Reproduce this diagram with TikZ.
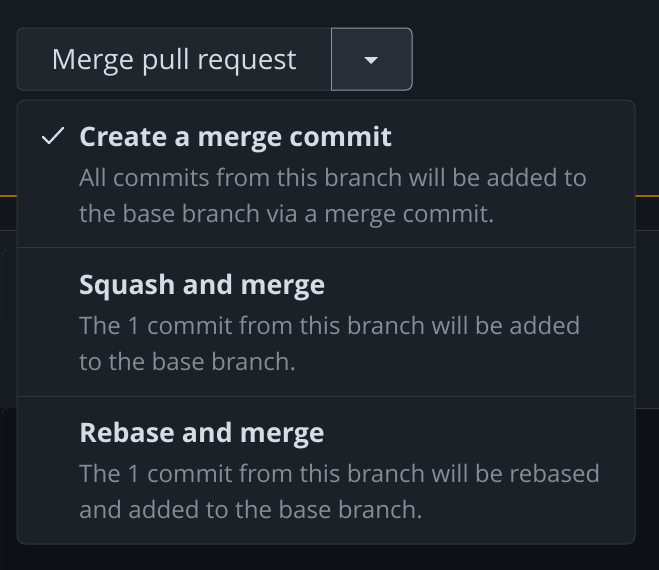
\documentclass[tikz,border=0pt]{standalone}
\usepackage{fontspec}
\setmainfont{Open Sans}
\definecolor{bg}{HTML}{161B22}
\definecolor{menubg}{HTML}{1C2128}
\definecolor{menuln}{HTML}{30363D}
\definecolor{btn}{HTML}{21262D}
\definecolor{btnln}{HTML}{363B42}
\definecolor{btn2}{HTML}{292E36}
\definecolor{focus}{HTML}{8B949E}
\definecolor{ttl}{HTML}{D6DCE3}
\definecolor{desc}{HTML}{848D97}
\definecolor{orng}{HTML}{9E6A03}
\definecolor{dark}{HTML}{0D1117}
\tikzset{
 ttlt/.style={anchor=base west,text=ttl,font=\fontsize{26.8}{28}\selectfont\bfseries,inner sep=0},
 desct/.style={anchor=base west,text=desc,font=\fontsize{24.1}{26}\selectfont,inner sep=0},
}
\begin{document}
\begin{tikzpicture}[x=1pt,y=-1pt]
\fill[bg] (0,0) rectangle (659,570);
\useasboundingbox (0,0) rectangle (659,570);
\draw[orng,line width=1.2] (0,196) -- (659,196);
\fill[bg!85!black] (0,197) rectangle (659,230);
\draw[menuln] (0,230) -- (659,230);
\draw[menuln,rounded corners=6] (2,325) -- (2,250) -- (20,250);
\fill[dark] (0,408) rectangle (659,570);
\draw[menuln,rounded corners=6] (2,570) -- (2,408) -- (20,408);
\draw[menuln] (635,408) -- (659,408);
% button
\node[draw=btnln,fill=btn,rounded corners=6,minimum width=395,minimum height=62,inner sep=0,line width=1] (btn) at (214.5,59) {};
\fill[btn2,rounded corners=6] (331,28) rectangle (412,90);
\fill[btn2] (331,28) rectangle (340,90);
\draw[focus,rounded corners=6,line width=1] (331,28) -- (412,28) -- (412,90) -- (331,90);
\draw[focus,line width=1] (331,28) -- (331,90);
\node[anchor=base,text=ttl,font=\fontsize{27.9}{30}\selectfont,inner sep=0] (lbl) at (174,69) {Merge pull request};
\fill[ttl] (364,57) -- (378,57) -- (371,64) -- cycle;
% menu
\node[draw=menuln,fill=menubg,rounded corners=8,minimum width=618,minimum height=444,inner sep=0,line width=1] (menu) at (326,322) {};
\draw[menuln,line width=1] (17,247) -- (635,247);
\draw[menuln,line width=1] (17,396) -- (635,396);
\draw[ttl,line width=2.2,line cap=round,line join=round] (43,137) -- (49,143) -- (63,128);
\node[ttlt] (t1) at (79,146) {Create a merge commit};
\node[desct] (d1a) at (79,186) {All commits from this branch will be added to};
\node[desct] (d1b) at (79,222) {the base branch via a merge commit.};
\node[ttlt] (t2) at (79,294) {Squash and merge};
\node[desct] (d2a) at (79,334) {The 1 commit from this branch will be added};
\node[desct] (d2b) at (79,370) {to the base branch.};
\node[ttlt] (t3) at (79,442) {Rebase and merge};
\node[desct] (d3a) at (79,482) {The 1 commit from this branch will be rebased};
\node[desct] (d3b) at (79,518) {and added to the base branch.};
\end{tikzpicture}
\end{document}
